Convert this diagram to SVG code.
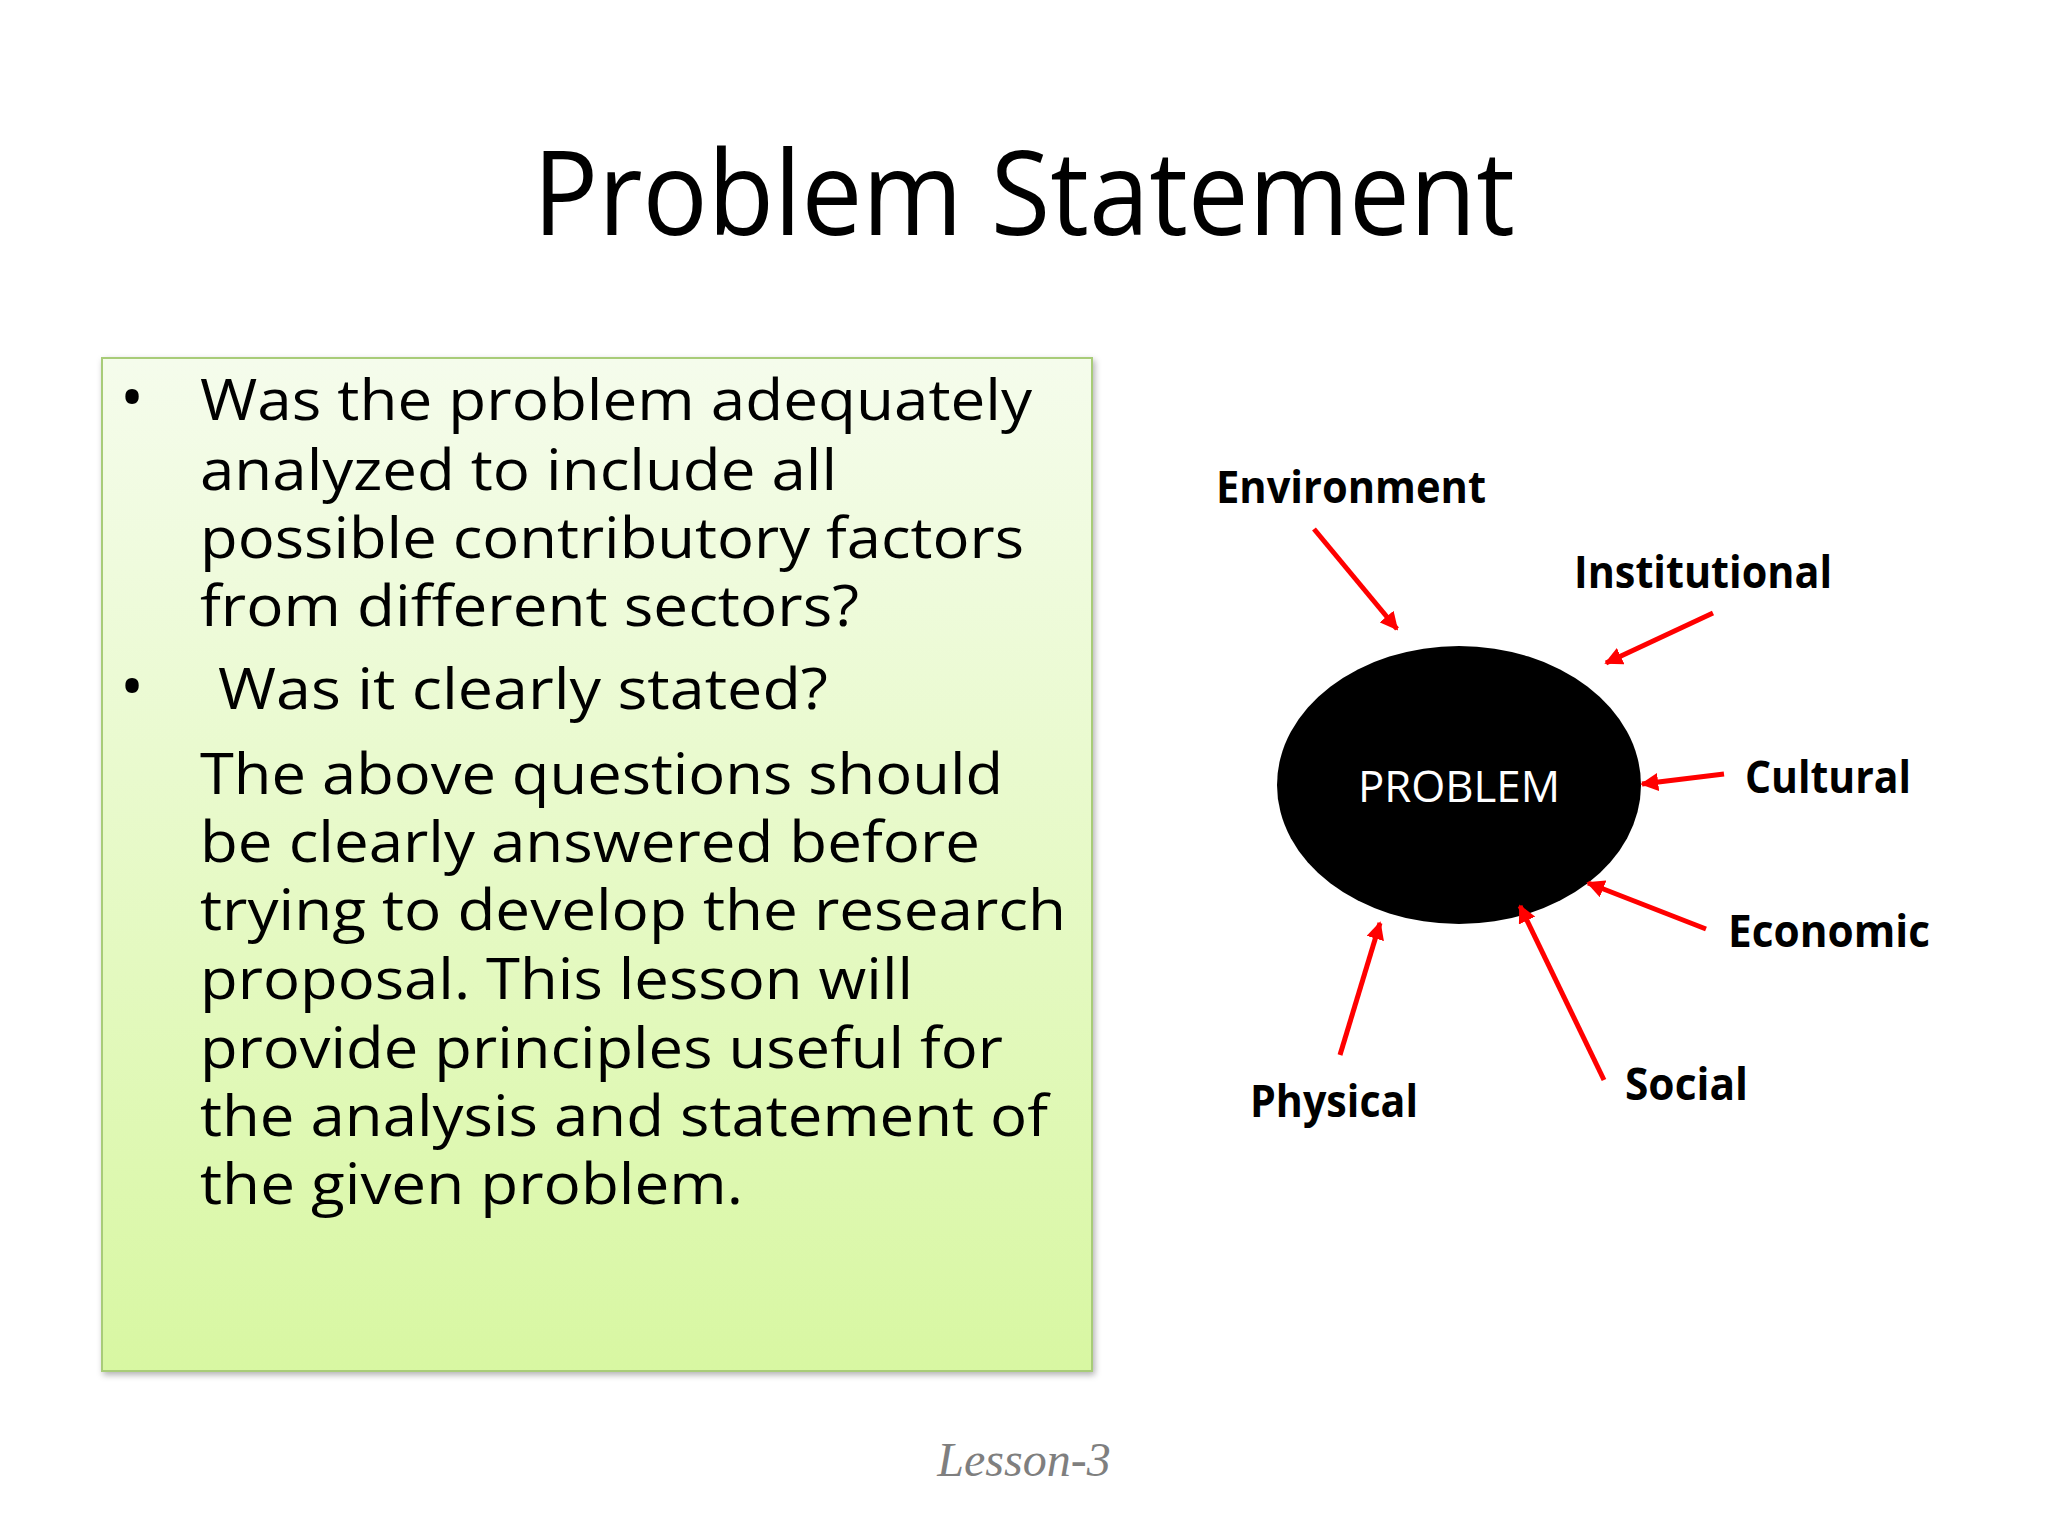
<svg xmlns="http://www.w3.org/2000/svg" width="2048" height="1536" viewBox="0 0 2048 1536">
<defs>
<linearGradient id="g" x1="0" y1="0" x2="0" y2="1"><stop offset="0" stop-color="#f5fcec"/><stop offset="1" stop-color="#d8f7a2"/></linearGradient>
<marker id="ah" viewBox="0 0 10 10" refX="9" refY="5" markerWidth="3.6" markerHeight="3.6" orient="auto"><path d="M0,0 L10,5 L0,10 z" fill="#ff0000"/></marker>
<filter id="sh" x="-5%" y="-5%" width="110%" height="110%"><feDropShadow dx="2" dy="3" stdDeviation="3" flood-opacity="0.3"/></filter>
</defs>
<style>
.t{font-family:"Open Sans","Liberation Sans",sans-serif;fill:#000}
.b{font-size:56px}
.bu{font-size:64px}
.l{font-family:"Open Sans","Liberation Sans",sans-serif;font-weight:bold;font-size:44px;fill:#000}
.a{stroke:#ff0000;stroke-width:5;fill:none;marker-end:url(#ah)}
</style>
<rect width="2048" height="1536" fill="#fff"/>
<text class="t" x="1024" y="235" font-size="118" text-anchor="middle" textLength="982" lengthAdjust="spacingAndGlyphs">Problem Statement</text>
<g id="textbox">
<rect x="102" y="358" width="990" height="1013" fill="url(#g)" stroke="#a8cc78" stroke-width="2" filter="url(#sh)"/>
<text class="t bu" x="120" y="420">•</text>
<text class="t b" x="200" y="420" textLength="832" lengthAdjust="spacingAndGlyphs">Was the problem adequately</text>
<text class="t b" x="200" y="490" textLength="637" lengthAdjust="spacingAndGlyphs">analyzed to include all</text>
<text class="t b" x="200" y="558" textLength="824" lengthAdjust="spacingAndGlyphs">possible contributory factors</text>
<text class="t b" x="200" y="626" textLength="659" lengthAdjust="spacingAndGlyphs">from different sectors?</text>
<text class="t bu" x="120" y="709">•</text>
<text class="t b" x="218" y="709" textLength="610" lengthAdjust="spacingAndGlyphs">Was it clearly stated?</text>
<text class="t b" x="200" y="794" textLength="803" lengthAdjust="spacingAndGlyphs">The above questions should</text>
<text class="t b" x="200" y="862" textLength="780" lengthAdjust="spacingAndGlyphs">be clearly answered before</text>
<text class="t b" x="200" y="930" textLength="866" lengthAdjust="spacingAndGlyphs">trying to develop the research</text>
<text class="t b" x="200" y="999" textLength="713" lengthAdjust="spacingAndGlyphs">proposal. This lesson will</text>
<text class="t b" x="200" y="1068" textLength="803" lengthAdjust="spacingAndGlyphs">provide principles useful for</text>
<text class="t b" x="200" y="1136" textLength="848" lengthAdjust="spacingAndGlyphs">the analysis and statement of</text>
<text class="t b" x="200" y="1204" textLength="543" lengthAdjust="spacingAndGlyphs">the given problem.</text>
</g>
<g id="problem">
<ellipse cx="1459" cy="785" rx="182" ry="139" fill="#000"/>
<text x="1459" y="802" font-family="Open Sans,Liberation Sans,sans-serif" font-size="44" fill="#fff" text-anchor="middle" textLength="202" lengthAdjust="spacingAndGlyphs">PROBLEM</text>
</g>
<g id="environment"><text class="l" x="1216" y="503" textLength="270" lengthAdjust="spacingAndGlyphs">Environment</text></g>
<g id="institutional"><text class="l" x="1574" y="588" textLength="258" lengthAdjust="spacingAndGlyphs">Institutional</text></g>
<g id="cultural"><text class="l" x="1745" y="793" textLength="166" lengthAdjust="spacingAndGlyphs">Cultural</text></g>
<g id="economic"><text class="l" x="1728" y="947" textLength="202" lengthAdjust="spacingAndGlyphs">Economic</text></g>
<g id="social"><text class="l" x="1625" y="1100" textLength="123" lengthAdjust="spacingAndGlyphs">Social</text></g>
<g id="physical"><text class="l" x="1250" y="1117" textLength="168" lengthAdjust="spacingAndGlyphs">Physical</text></g>
<g id="connectors">
<line class="a" x1="1314" y1="529" x2="1397" y2="629"/>
<line class="a" x1="1713" y1="613" x2="1606" y2="663"/>
<line class="a" x1="1724" y1="774" x2="1642" y2="784"/>
<line class="a" x1="1706" y1="929" x2="1588" y2="883"/>
<line class="a" x1="1604" y1="1080" x2="1520" y2="906"/>
<line class="a" x1="1340" y1="1055" x2="1380" y2="923"/>
</g>
<text x="1024" y="1476" font-family="Liberation Serif,serif" font-style="italic" font-size="48" fill="#7f7f7f" text-anchor="middle">Lesson-3</text>
</svg>
